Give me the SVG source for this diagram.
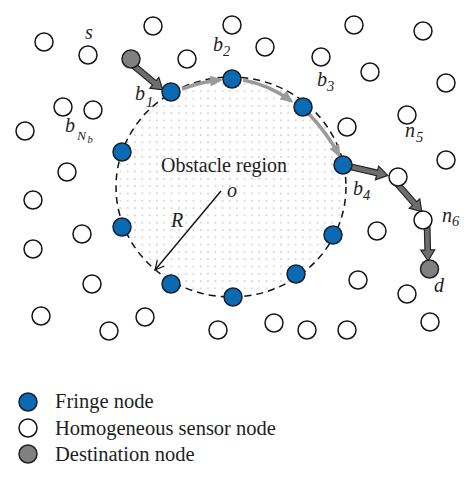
<svg xmlns="http://www.w3.org/2000/svg" width="474" height="484" viewBox="0 0 474 484">
<style>
.fr{fill:#0b6ab4;stroke:#14202c;stroke-width:1.5}
.ho{fill:#fff;stroke:#151515;stroke-width:1.5}
.de{fill:#808080;stroke:#202020;stroke-width:1.5}
.blk{fill:#6e6e6e;stroke:#262626;stroke-width:1.2;stroke-linejoin:miter}
.gr{fill:none;stroke:#9a9a9a;stroke-width:3.5}
.t{font-family:"Liberation Serif","Times New Roman",serif;fill:#1e1e1e}
.m{font-family:"Liberation Serif","Times New Roman",serif;font-style:italic;fill:#1e1e1e}
</style>
<defs>
<pattern id="dots" width="7.3" height="7.3" patternUnits="userSpaceOnUse">
<circle cx="3.6" cy="3.6" r="0.65" fill="#999"/>
</pattern>
<marker id="gh" markerUnits="userSpaceOnUse" markerWidth="13" markerHeight="11" refX="10" refY="5.5" orient="auto">
<path d="M0,0 L13,5.5 L0,11 z" fill="#9a9a9a"/>
</marker>
<marker id="oh" markerUnits="userSpaceOnUse" markerWidth="12" markerHeight="12" refX="10" refY="6" orient="auto">
<path d="M1,1.5 L10,6 L1,10.5" fill="none" stroke="#111" stroke-width="1.2"/>
</marker>
</defs>
<rect width="474" height="484" fill="#fff"/>

<g id="obstacle">
<ellipse cx="231" cy="187" rx="115" ry="110" fill="url(#dots)"/>
<ellipse cx="231" cy="187" rx="115" ry="110" fill="none" stroke="#111" stroke-width="1.5" stroke-dasharray="7 5"/>
<line x1="221" y1="191" x2="155" y2="270" stroke="#111" stroke-width="1.4" marker-end="url(#oh)"/>
<text class="t" x="161" y="172" font-size="20">Obstacle region</text>
<text class="m" x="227" y="197" font-size="20">o</text>
<text class="m" x="171" y="227" font-size="20">R</text>
</g>

<g id="connectors">
<path class="gr" d="M182,89 Q200,82 220,80" marker-end="url(#gh)"/>
<path class="gr" d="M243,80 Q270,85 291,101" marker-end="url(#gh)"/>
<path class="gr" d="M309,114 Q327,133 339,155" marker-end="url(#gh)"/>
<polygon class="blk" transform="translate(129,61.7) rotate(39.8)" points="0,-2.8 33,-2.8 33,-7 44,0 33,7 33,2.8 0,2.8"/>
<polygon class="blk" transform="translate(343,165) rotate(13.1)" points="0,-2.8 35,-2.8 35,-7 46,0 35,7 35,2.8 0,2.8"/>
<polygon class="blk" transform="translate(396,182.5) rotate(48.6)" points="0,-2.8 28,-2.8 28,-7 39,0 28,7 28,2.8 0,2.8"/>
<polygon class="blk" transform="translate(427,222) rotate(88.5)" points="0,-2.8 28,-2.8 28,-7 39,0 28,7 28,2.8 0,2.8"/>
</g>

<g id="fringe-nodes">
<circle id="b1" class="fr" cx="171" cy="92" r="9"/>
<circle id="b2" class="fr" cx="232" cy="79" r="9"/>
<circle id="b3" class="fr" cx="303" cy="107" r="9"/>
<circle id="b4" class="fr" cx="343" cy="165" r="9"/>
<circle id="f5" class="fr" cx="333" cy="235" r="9"/>
<circle id="f6" class="fr" cx="296" cy="274" r="9"/>
<circle id="f7" class="fr" cx="233" cy="297" r="9"/>
<circle id="f8" class="fr" cx="171" cy="284" r="9"/>
<circle id="f9" class="fr" cx="122" cy="227" r="9"/>
<circle id="bNb" class="fr" cx="122" cy="152" r="9"/>
</g>

<g id="sensor-nodes">
<circle class="ho" cx="44" cy="42" r="9"/>
<circle class="ho" cx="88" cy="55" r="9"/>
<circle class="ho" cx="153" cy="26" r="9"/>
<circle class="ho" cx="187" cy="59" r="9"/>
<circle class="ho" cx="232" cy="25" r="9"/>
<circle class="ho" cx="265" cy="47" r="9"/>
<circle class="ho" cx="321" cy="57" r="9"/>
<circle class="ho" cx="354" cy="25" r="9"/>
<circle class="ho" cx="370" cy="72" r="9"/>
<circle class="ho" cx="423" cy="31" r="9"/>
<circle class="ho" cx="446" cy="83" r="9"/>
<circle class="ho" cx="407" cy="115" r="9"/>
<circle class="ho" cx="347" cy="127" r="9"/>
<circle class="ho" cx="446" cy="160" r="9"/>
<circle class="ho" cx="63" cy="107" r="9"/>
<circle class="ho" cx="93" cy="110" r="9"/>
<circle class="ho" cx="25" cy="131" r="9"/>
<circle class="ho" cx="67" cy="172" r="9"/>
<circle class="ho" cx="33" cy="200" r="9"/>
<circle class="ho" cx="82" cy="234" r="9"/>
<circle class="ho" cx="33" cy="249" r="9"/>
<circle class="ho" cx="92" cy="284" r="9"/>
<circle class="ho" cx="41" cy="316" r="9"/>
<circle class="ho" cx="109" cy="331" r="9"/>
<circle class="ho" cx="145" cy="317" r="9"/>
<circle class="ho" cx="218" cy="330" r="9"/>
<circle class="ho" cx="274" cy="323" r="9"/>
<circle class="ho" cx="307" cy="330" r="9"/>
<circle class="ho" cx="347" cy="330" r="9"/>
<circle class="ho" cx="358" cy="280" r="9"/>
<circle class="ho" cx="377" cy="231" r="9"/>
<circle class="ho" cx="407" cy="294" r="9"/>
<circle class="ho" cx="430" cy="322" r="9"/>
<circle id="n5" class="ho" cx="398" cy="177" r="9"/>
<circle id="n6" class="ho" cx="423" cy="220" r="9"/>
</g>

<g id="source"><circle class="de" cx="131" cy="59" r="9"/></g>
<g id="destination"><circle class="de" cx="429.5" cy="269" r="9"/></g>

<g id="labels">
<text class="m" x="85" y="39" font-size="20">s</text>
<text class="m" x="135" y="100" font-size="20">b</text><text class="m" x="146" y="107" font-size="14.5">1</text>
<text class="m" x="213" y="51" font-size="20">b</text><text class="m" x="223" y="56" font-size="14.5">2</text>
<text class="m" x="317" y="86" font-size="20">b</text><text class="m" x="327" y="91" font-size="14.5">3</text>
<text class="m" x="353" y="195" font-size="20">b</text><text class="m" x="363" y="200" font-size="14.5">4</text>
<text class="m" x="405" y="137" font-size="20">n</text><text class="m" x="416" y="142" font-size="14.5">5</text>
<text class="m" x="442" y="222" font-size="20">n</text><text class="m" x="452" y="226" font-size="14.5">6</text>
<text class="m" x="434" y="292" font-size="20">d</text>
<text class="m" x="65" y="132" font-size="20">b</text><text class="m" x="77" y="140" font-size="13.5">N</text><text class="m" x="87.5" y="143" font-size="10.5">b</text>
</g>

<g id="legend">
<circle class="fr" cx="28" cy="402" r="9"/>
<circle class="ho" cx="28" cy="428" r="9"/>
<circle class="de" cx="28" cy="454" r="9"/>
<text class="t" x="55" y="408" font-size="20.5">Fringe node</text>
<text class="t" x="55" y="434.5" font-size="20.5">Homogeneous sensor node</text>
<text class="t" x="55" y="461" font-size="20.5">Destination node</text>
</g>
</svg>
